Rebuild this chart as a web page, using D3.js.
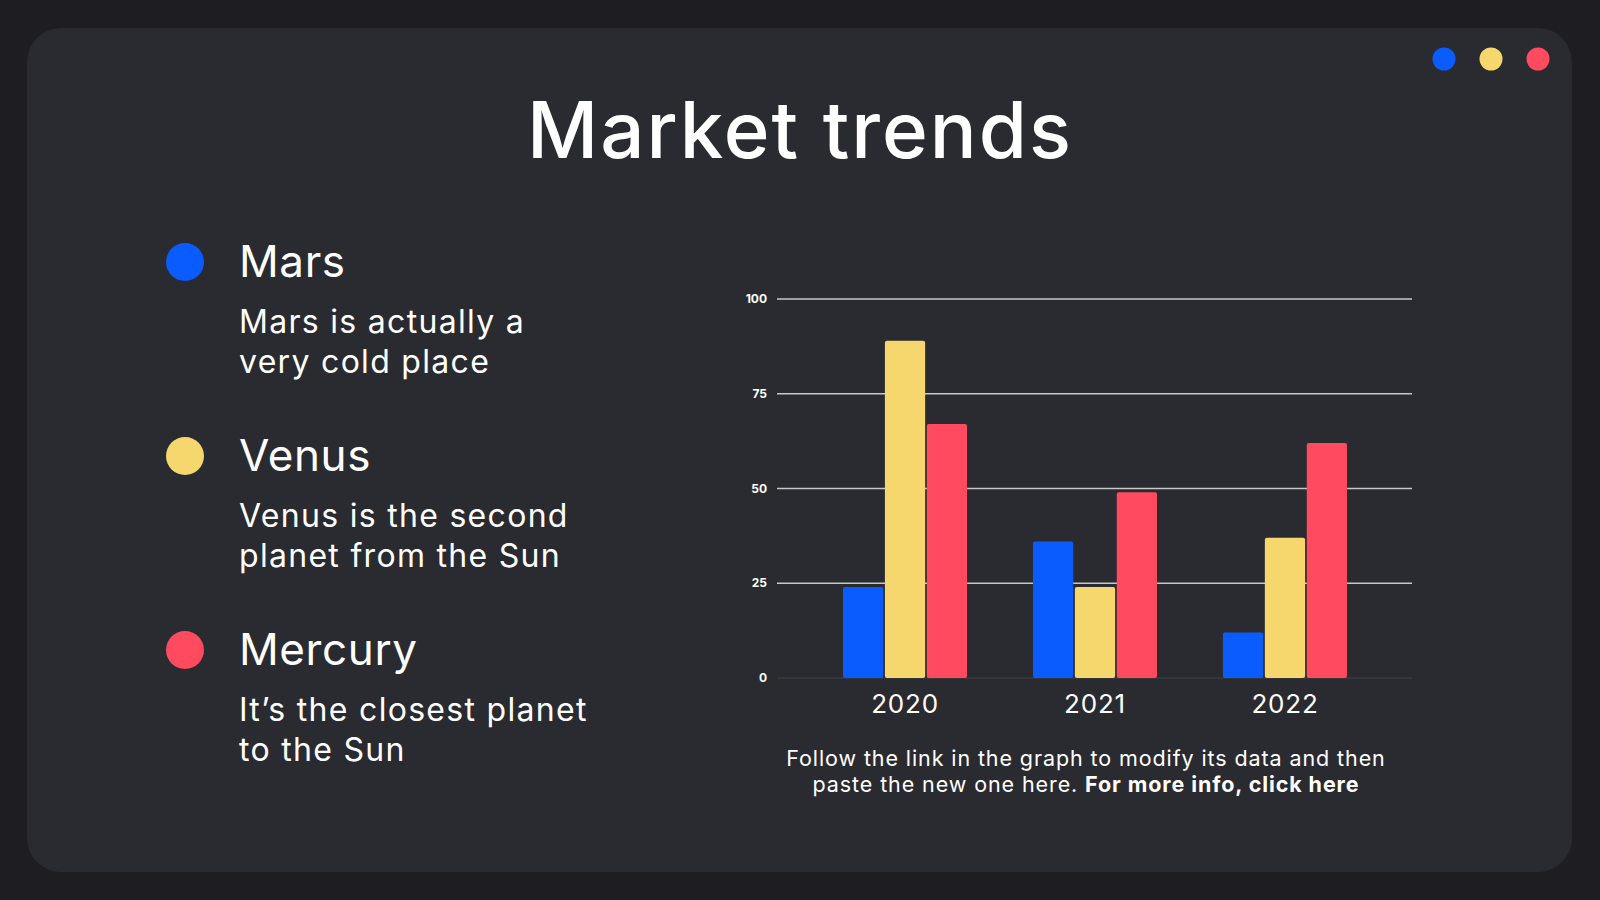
<!DOCTYPE html>
<html lang="en">
<head>
<meta charset="UTF-8">
<title>Market trends</title>
<script src="https://d3js.org/d3.v7.min.js"></script>
<style>
  body { margin: 0; background: #1e1e22; }
  svg { display: block; font-family: "Inter", "Open Sans", sans-serif; }
</style>
</head>
<body>
<svg width="1600" height="900"></svg>
<script>
// data
const years = ["2020", "2021", "2022"];
const seriesNames = ["Mars", "Venus", "Mercury"];
const seriesColors = ["#0b5cff", "#f5d76e", "#ff4a5f"];
const marsValues = [24, 36, 12];
const venusValues = [89, 24, 37];
const mercuryValues = [67, 49, 62];
const yTicks = [0, 25, 50, 75, 100];
const descriptions = [
  ["Mars is actually a", "very cold place"],
  ["Venus is the second", "planet from the Sun"],
  ["It\u2019s the closest planet", "to the Sun"]
];

const svg = d3.select("svg");

// card
svg.append("rect").attr("x", 27).attr("y", 28).attr("width", 1545).attr("height", 844)
  .attr("rx", 34).attr("fill", "#2a2b30");

// top-right dots
svg.selectAll(".dot").data(seriesColors).join("circle")
  .attr("cx", (d, i) => 1444 + i * 47).attr("cy", 59).attr("r", 11.5).attr("fill", d => d);

// title
svg.append("text").attr("x", 800).attr("y", 158).attr("text-anchor", "middle")
  .attr("fill", "#fff").attr("font-size", 78).attr("font-weight", 500)
  .attr("letter-spacing", 2).text("Market trends");

// legend
const legend = svg.selectAll(".leg").data(seriesNames).join("g")
  .attr("transform", (d, i) => `translate(0,${262 + i * 194})`);
legend.append("circle").attr("cx", 185).attr("cy", 0).attr("r", 19)
  .attr("fill", (d, i) => seriesColors[i]);
legend.append("text").attr("x", 239).attr("y", 15).attr("fill", "#fff")
  .attr("font-size", 44).attr("letter-spacing", 0.6).text(d => d);
legend.each(function (d, i) {
  d3.select(this).selectAll(".desc").data(descriptions[i]).join("text")
    .attr("x", 239).attr("y", (t, j) => 71 + j * 40).attr("fill", "#fff")
    .attr("font-size", 32).attr("letter-spacing", 1.3).text(t => t);
});

// chart
const y = d3.scaleLinear().domain([0, 100]).range([678, 299]);
const x0 = d3.scaleBand().domain(years).range([843, 1347]).paddingInner(0.347);
const x1 = d3.scaleBand().domain(seriesNames).range([0, x0.bandwidth()]).paddingInner(0.04);
const values = [marsValues, venusValues, mercuryValues];

const grid = svg.append("g");
grid.selectAll("line").data(yTicks).join("line")
  .attr("x1", 777).attr("x2", 1412).attr("y1", d => y(d)).attr("y2", d => y(d))
  .attr("stroke", d => d === 0 ? "#3a3b40" : "#c8c8c8").attr("stroke-width", 1.3);
grid.selectAll("text").data(yTicks).join("text")
  .attr("x", 767).attr("y", d => y(d) + 4).attr("text-anchor", "end")
  .attr("fill", "#fff").attr("font-size", 12).attr("font-weight", 700).text(d => d);

const groups = svg.selectAll(".grp").data(years).join("g")
  .attr("transform", d => `translate(${x0(d)},0)`);
groups.selectAll("rect").data((yr, yi) => seriesNames.map((s, si) => ({ s, si, v: values[si][yi] })))
  .join("rect")
  .attr("x", d => x1(d.s)).attr("width", x1.bandwidth())
  .attr("y", d => y(d.v)).attr("height", d => y(0) - y(d.v))
  .attr("rx", 2).attr("fill", d => seriesColors[d.si]);

svg.selectAll(".yr").data(years).join("text")
  .attr("x", d => x0(d) + x0.bandwidth() / 2).attr("y", 713).attr("text-anchor", "middle")
  .attr("fill", "#fff").attr("font-size", 26).attr("letter-spacing", 0.8).text(d => d);

// footnote
const note = svg.append("text").attr("x", 1086).attr("text-anchor", "middle")
  .attr("fill", "#fff").attr("font-size", 21.5).attr("letter-spacing", 0.9);
note.append("tspan").attr("x", 1086).attr("y", 766)
  .text("Follow the link in the graph to modify its data and then");
const l2 = note.append("tspan").attr("x", 1086).attr("y", 792);
l2.append("tspan").text("paste the new one here. ");
l2.append("tspan").attr("font-weight", 700).text("For more info, click here");
</script>
</body>
</html>
